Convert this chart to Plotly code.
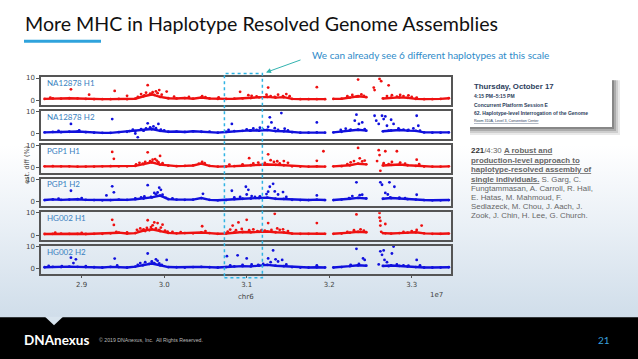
import base64
import plotly.graph_objects as go

# ---------------- data ----------------
TRACK_NAMES = ["NA12878 H1", "NA12878 H2", "PGP1 H1", "PGP1 H2", "HG002 H1", "HG002 H2"]
TRACK_COLORS = ["#ee1111", "#1111dd", "#ee1111", "#1111dd", "#ee1111", "#1111dd"]

X_TICKS = [2.9, 3.0, 3.1, 3.2, 3.3]
X_TICK_LABELS = ["2.9", "3.0", "3.1", "3.2", "3.3"]
Y_TICKS = [0, 10]

# window positions along chr6 (units of 1e7 bp); None values mark gaps
X_WIN = [2.855, 2.865, 2.875, 2.885, 2.895, 2.905, 2.915, 2.925, 2.935, 2.945,
         2.955, 2.965, 2.975, 2.985, 2.995, 3.005, 3.015, 3.025, 3.035, 3.045,
         3.055, 3.065, 3.075, 3.085, 3.095, 3.105, 3.115, 3.125, 3.135, 3.145,
         3.155, 3.165, 3.175, 3.185, 3.195, 3.200, 3.205, 3.215, 3.225, 3.235,
         3.245, 3.255, 3.265, 3.275, 3.285, 3.295, 3.305, 3.315, 3.325, 3.335, 3.345]

BASE_NA12878_H1 = [0.6, 0.8, 0.7, 0.9, 0.8, 0.6, 0.5, 0.5, 0.5, 0.6, 0.5, 0.7, 1.8, 2.6, 1.5,
                   0.9, 0.8, 1.0, 0.7, 1.2, 0.8, 0.6, 0.6, 0.7, 0.8, 1.0, 1.3, 1.5, 1.2, 1.4,
                   0.6, 0.5, 0.5, 0.5, 0.5, None, 0.6, 0.7, 1.2, 1.8, 1.4, None,
                   0.8, 1.2, 1.3, 1.1, 0.6, 0.5, 0.5, 0.6, 0.9]
BASE_NA12878_H2 = [0.7, 0.9, 0.8, 1.0, 1.1, 0.8, 0.6, 0.5, 0.5, 0.8, 1.0, 1.3, 1.6, 2.2, 1.4,
                   1.0, 1.1, 0.9, 1.2, 1.0, 1.1, 0.6, 0.9, 1.3, 1.4, 1.6, 1.5, 1.8, 1.3, 1.2,
                   0.8, 0.6, 0.6, 0.7, 0.6, None, 0.7, 1.0, 1.6, 1.9, 1.5, None,
                   1.2, 1.6, 1.8, 1.5, 1.4, 0.7, 0.6, 0.6, 0.7]
BASE_PGP1_H1 = [0.6, 0.7, 0.6, 0.6, 0.5, 0.5, 0.5, 0.6, 0.7, 0.6, 0.6, 0.8, 1.6, 2.4, 1.4,
                0.9, 0.7, 0.8, 1.0, 1.8, 0.8, 0.5, 0.5, 0.7, 0.9, 1.1, 1.3, 1.4, 1.3, 1.1,
                0.6, 0.5, 0.5, 0.6, 0.5, None, 0.6, 0.7, 1.1, 1.8, 1.5, None,
                1.0, 1.3, 1.4, 1.1, 0.8, 0.5, 0.5, 0.5, 0.6]
BASE_PGP1_H2 = [0.6, 0.9, 0.7, 0.8, 1.0, 0.7, 0.6, 0.5, 0.6, 0.8, 0.7, 1.0, 1.3, 1.8, 2.6,
                1.0, 0.8, 0.7, 0.8, 1.5, 0.7, 0.5, 0.6, 1.0, 1.2, 1.3, 1.5, 1.7, 1.2, 1.1,
                0.7, 0.6, 0.6, 0.8, 0.6, None, 0.6, 0.8, 1.2, 1.6, 1.3, None,
                1.2, 1.5, 1.3, 1.0, 0.8, 0.6, 0.5, 0.5, 0.6]
BASE_HG002_H1 = [0.5, 0.6, 0.7, 0.6, 0.6, 0.5, 0.6, 0.6, 0.8, 1.1, 0.7, 0.9, 2.0, 2.6, 1.8,
                 1.0, 0.8, 0.9, 0.8, 1.2, 0.9, 0.6, 0.7, 1.2, 1.4, 1.3, 1.5, 1.6, 1.3, 1.2,
                 0.7, 0.6, 0.6, 0.7, 0.6, None, 0.6, 0.7, 1.1, 1.5, 1.3, None,
                 0.9, 0.7, 0.9, 1.1, 1.3, 0.8, 0.6, 0.6, 0.7]
BASE_HG002_H2 = [0.7, 0.9, 0.8, 1.0, 0.9, 0.8, 0.7, 0.6, 0.9, 0.8, 0.6, 1.0, 1.8, 2.4, 1.6,
                 0.8, 0.7, 0.6, 0.8, 0.9, 0.7, 0.6, 0.8, 1.1, 1.2, 1.1, 1.4, 1.8, 1.4, 1.2,
                 0.8, 0.6, 0.6, 0.7, 0.6, None, 0.6, 0.8, 1.2, 1.6, 1.4, None,
                 1.3, 1.5, 1.3, 1.0, 0.8, 0.6, 0.6, 0.6, 0.7]

# individual elevated windows (position, est. diff %)
PTS_NA12878_H1 = [(2.862, 1.2), (2.887, 4.9), (2.909, 2.5), (2.940, 4.2), (2.955, 2.0), (2.968, 1.5),
                  (2.972, 2.8), (2.976, 2.2), (2.978, 3.4), (2.980, 6.8), (2.983, 3.0), (2.986, 3.6),
                  (2.988, 2.4), (2.990, 4.0), (2.992, 3.2), (2.994, 4.6), (2.997, 2.5), (3.003, 3.9),
                  (3.012, 1.6), (3.030, 1.5), (3.046, 1.8), (3.050, 1.4), (3.066, 1.3), (3.092, 3.8),
                  (3.102, 2.3), (3.106, 2.0), (3.112, 1.7), (3.126, 5.7), (3.124, 2.5), (3.129, 1.9),
                  (3.134, 1.5), (3.138, 2.5), (3.144, 1.9), (3.148, 2.8), (3.152, 1.8), (3.185, 5.9),
                  (3.222, 1.8), (3.228, 2.4), (3.233, 1.6), (3.235, 9.3), (3.239, 2.6), (3.242, 2.0),
                  (3.254, 5.7), (3.255, 4.6), (3.261, 9.6), (3.263, 8.6), (3.272, 6.7), (3.270, 1.9),
                  (3.276, 2.3), (3.282, 1.6), (3.286, 2.4), (3.290, 1.9), (3.296, 2.2), (3.300, 1.5),
                  (3.306, 1.2)]
PTS_NA12878_H2 = [(2.872, 1.4), (2.887, 4.5), (2.897, 1.6), (2.937, 6.7), (2.958, 1.3), (2.962, 2.0),
                  (2.965, 0.2), (2.968, -1.5), (2.972, 2.2), (2.975, 1.5), (2.978, 2.5), (2.980, 4.8),
                  (2.983, 3.0), (2.985, 2.2), (2.987, 3.4), (2.990, 2.6), (2.993, 4.5), (2.996, 2.0),
                  (3.000, 1.6), (3.082, 4.5), (3.078, 1.8), (3.100, 2.1), (3.104, 1.5), (3.108, 2.5),
                  (3.112, 1.8), (3.116, 2.8), (3.120, 2.0), (3.126, 3.2), (3.128, 7.5), (3.130, 5.2),
                  (3.134, 2.6), (3.138, 1.8), (3.142, 9.4), (3.146, 2.4), (3.150, 1.6), (3.185, 5.2),
                  (3.214, 1.8), (3.220, 2.4), (3.226, 2.0), (3.231, 6.0), (3.233, 8.7), (3.236, 4.5),
                  (3.240, 5.2), (3.243, 2.2), (3.255, 8.2), (3.257, 6.0), (3.260, 4.5), (3.264, 8.2),
                  (3.266, 6.7), (3.268, 7.9), (3.270, 3.7), (3.272, 1.5), (3.275, 6.4), (3.278, 4.5),
                  (3.284, 2.5), (3.290, 2.0), (3.296, 1.8), (3.302, 2.5), (3.306, 8.2), (3.308, 3.7),
                  (3.310, 1.5)]
PTS_PGP1_H1 = [(2.937, 7.1), (2.939, 4.0), (2.966, 1.5), (2.970, 2.2), (2.974, 1.8), (2.977, 2.6),
               (2.980, 6.9), (2.983, 2.9), (2.986, 3.6), (2.989, 3.9), (2.991, 3.2), (2.993, 2.5),
               (2.995, 5.3), (2.998, 2.0), (3.042, 1.8), (3.046, 2.6), (3.049, 2.0), (3.079, 1.4),
               (3.095, 1.5), (3.103, 4.3), (3.108, 1.9), (3.114, 2.3), (3.122, 2.1), (3.126, 6.0),
               (3.129, 3.4), (3.133, 2.6), (3.137, 2.9), (3.140, 1.9), (3.145, 3.0), (3.150, 2.2),
               (3.185, 3.1), (3.193, 7.4), (3.222, 1.6), (3.226, 2.4), (3.230, 3.0), (3.235, 8.9),
               (3.237, 4.2), (3.240, 2.8), (3.243, 3.2), (3.258, 3.0), (3.260, 7.9), (3.261, 5.7),
               (3.262, -1.4), (3.266, 2.0), (3.268, 7.4), (3.272, 1.6), (3.276, 2.6), (3.282, 7.4),
               (3.286, 2.3), (3.292, 1.8), (3.306, 3.6), (3.309, 1.6)]
PTS_PGP1_H2 = [(2.872, 1.2), (2.887, 4.8), (2.900, 1.5), (2.930, 2.7), (2.937, 6.8), (2.939, 4.1),
               (2.965, 1.4), (2.972, 1.8), (2.976, 2.2), (2.980, 7.3), (2.984, 2.0), (2.988, 3.8),
               (2.990, 3.2), (2.992, 4.0), (2.994, 6.2), (2.996, 5.2), (2.998, 3.0), (3.002, 1.6),
               (3.010, 1.4), (3.047, 3.4), (3.082, 4.8), (3.085, 1.8), (3.092, 2.0), (3.099, 6.6),
               (3.102, 5.2), (3.100, 3.1), (3.106, 2.4), (3.110, 2.0), (3.116, 2.3), (3.124, 3.3),
               (3.126, 4.4), (3.128, 6.6), (3.132, 7.9), (3.134, 4.5), (3.138, 3.1), (3.144, 4.2),
               (3.148, 2.0), (3.185, 2.7), (3.224, 1.5), (3.228, 2.4), (3.233, 8.6), (3.237, 2.8),
               (3.240, 3.0), (3.262, 8.6), (3.264, 7.5), (3.268, 3.8), (3.271, 3.1), (3.273, 8.6),
               (3.274, 1.8), (3.279, 6.6), (3.285, 1.7), (3.292, 1.5), (3.306, 3.0)]
PTS_HG002_H1 = [(2.868, 1.1), (2.900, 1.0), (2.937, 6.9), (2.939, 4.6), (2.942, 1.5), (2.955, 1.2),
                (2.967, 2.4), (2.969, 1.6), (2.971, 3.0), (2.973, 2.0), (2.975, 2.6), (2.977, 1.8),
                (2.979, 3.2), (2.980, 6.7), (2.982, 2.2), (2.984, 3.6), (2.986, 4.4), (2.988, 5.7),
                (2.990, 3.0), (2.992, 5.4), (2.994, 2.4), (2.996, 3.4), (2.998, 4.7), (3.001, 2.0),
                (3.004, 1.6), (3.010, 1.5), (3.020, 1.3), (3.046, 4.0), (3.050, 1.8), (3.077, 1.6),
                (3.080, 2.5), (3.083, 4.3), (3.087, 2.2), (3.090, 5.7), (3.094, 2.8), (3.100, 6.9),
                (3.103, 2.2), (3.108, 2.6), (3.113, 1.8), (3.118, 2.2), (3.122, 2.0), (3.126, 5.4),
                (3.130, 2.3), (3.134, 9.6), (3.137, 3.0), (3.140, 2.4), (3.144, 2.6), (3.150, 1.8),
                (3.185, 5.4), (3.222, 1.5), (3.230, 2.2), (3.233, 9.3), (3.238, 2.6), (3.242, 2.0),
                (3.261, 10.0), (3.261, 7.9), (3.262, 6.4), (3.262, 4.3), (3.263, 1.5), (3.268, 5.0),
                (3.268, 0.8), (3.290, 1.4), (3.300, 1.8), (3.306, 2.3), (3.312, 4.3)]
PTS_HG002_H2 = [(2.860, 1.3), (2.876, 1.2), (2.887, 5.0), (2.890, 2.6), (2.893, 4.3), (2.905, 1.2),
                (2.940, 4.6), (2.943, 1.5), (2.968, 1.8), (2.971, 2.6), (2.974, 1.6), (2.977, 3.0),
                (2.980, 6.9), (2.982, 2.2), (2.985, 3.4), (2.988, 2.6), (2.990, 4.3), (2.992, 3.6),
                (2.994, 2.4), (2.997, 1.8), (3.003, 4.0), (3.076, 5.7), (3.080, 1.6), (3.089, 6.1),
                (3.095, 1.8), (3.100, 4.7), (3.106, 2.0), (3.114, 1.8), (3.120, 2.2), (3.126, 4.7),
                (3.129, 3.0), (3.132, 8.3), (3.135, 4.3), (3.138, 3.3), (3.143, 4.0), (3.148, 2.0),
                (3.185, 1.6), (3.226, 1.8), (3.233, 9.0), (3.236, 2.2), (3.241, 4.7), (3.243, 4.0),
                (3.260, 2.0), (3.262, 7.9), (3.264, 6.3), (3.266, 8.3), (3.267, 4.0), (3.270, 3.0),
                (3.272, 1.2), (3.276, 6.9), (3.278, 10.0), (3.282, 2.0), (3.290, 1.6), (3.296, 1.4),
                (3.306, 4.0), (3.310, 1.6)]

BASES = [BASE_NA12878_H1, BASE_NA12878_H2, BASE_PGP1_H1, BASE_PGP1_H2, BASE_HG002_H1, BASE_HG002_H2]
POINTS = [PTS_NA12878_H1, PTS_NA12878_H2, PTS_PGP1_H1, PTS_PGP1_H2, PTS_HG002_H1, PTS_HG002_H2]

HIGHLIGHT = (3.073, 3.119)  # dotted box region

# ---------------- layout helpers ----------------
W, H = 638, 359
def fx(p):
    return p / W
def fy(p):
    return 1 - p / H

X_RANGE = [2.8507, 3.3476]
Y_RANGE = [-2.2, 10.3]
PANEL_TOPS = [75, 109, 143, 177, 211, 245]
PANEL_H = 28
LEFT, RIGHT = 41, 451

fig = go.Figure()
layout = {}
annotations = []
shapes = []

for i in range(6):
    n = i + 1
    xa = "x" if n == 1 else f"x{n}"
    ya = "y" if n == 1 else f"y{n}"
    top = PANEL_TOPS[i]
    bottom = top + PANEL_H
    color = TRACK_COLORS[i]
    fig.add_trace(go.Scatter(x=X_WIN, y=BASES[i], mode="lines+markers", xaxis=xa, yaxis=ya,
                             line=dict(color=color, width=2.4), marker=dict(color=color, size=2.8),
                             connectgaps=False, showlegend=False, hoverinfo="skip"))
    px_ = [p[0] for p in POINTS[i]]
    py_ = [p[1] for p in POINTS[i]]
    fig.add_trace(go.Scatter(x=px_, y=py_, mode="markers", xaxis=xa, yaxis=ya,
                             marker=dict(color=color, size=2.8), showlegend=False, hoverinfo="skip",
                             cliponaxis=True))
    last = (n == 6)
    layout["xaxis" if n == 1 else f"xaxis{n}"] = dict(
        domain=[fx(LEFT), fx(RIGHT)], range=X_RANGE, anchor=ya,
        showline=True, mirror=True, linecolor="#555555", linewidth=1.5,
        showgrid=False, zeroline=False,
        tickvals=X_TICKS, ticktext=X_TICK_LABELS,
        ticks="outside" if last else "", ticklen=3, tickcolor="#555555",
        showticklabels=last, tickfont=dict(family="DejaVu Sans", size=7, color="#444444"))
    layout["yaxis" if n == 1 else f"yaxis{n}"] = dict(
        domain=[fy(bottom), fy(top)], range=Y_RANGE, anchor=xa,
        showline=True, mirror=True, linecolor="#555555", linewidth=1.5,
        showgrid=False, zeroline=False, tickvals=Y_TICKS,
        ticks="outside", ticklen=3, tickcolor="#555555",
        tickfont=dict(family="DejaVu Sans", size=7, color="#444444"))
    annotations.append(dict(xref="paper", yref="paper", x=fx(45), y=fy(top + 6),
                            xanchor="left", yanchor="middle", showarrow=False,
                            text=TRACK_NAMES[i],
                            font=dict(family="Lato", size=8, color="#3a7fc0")))

# dotted highlight box
shapes.append(dict(type="rect", xref="x6", yref="paper", x0=HIGHLIGHT[0], x1=HIGHLIGHT[1],
                   y0=fy(277), y1=fy(71), line=dict(color="#2fb3e3", width=1.5, dash="dot"),
                   fillcolor="rgba(0,0,0,0)", layer="above"))

# axis labels
annotations += [
    dict(xref="paper", yref="paper", x=fx(21), y=fy(163), text="est. diff (%)", textangle=-90,
         showarrow=False, font=dict(family="DejaVu Sans", size=6.5, color="#444444")),
    dict(xref="paper", yref="paper", x=fx(246), y=fy(296), yanchor="middle", text="chr6",
         showarrow=False, font=dict(family="DejaVu Sans", size=7, color="#444444")),
    dict(xref="paper", yref="paper", x=fx(445), y=fy(294), yanchor="middle", text="1e7",
         showarrow=False, font=dict(family="DejaVu Sans", size=7, color="#444444")),
]

# title & callout
annotations += [
    dict(xref="paper", yref="paper", x=fx(23), y=fy(21), xanchor="left", yanchor="middle",
         text="More MHC in Haplotype Resolved Genome Assemblies", showarrow=False,
         font=dict(family="Lato", size=19.6, color="#111111")),
    dict(xref="paper", yref="paper", x=fx(310), y=fy(52), xanchor="left", yanchor="middle",
         text="We can already see 6 different haplotypes at this scale", showarrow=False,
         font=dict(family="Lato", size=10, color="#2e8bc9")),
    dict(xref="paper", yref="paper", x=fx(266), y=fy(70), ax=36, ay=-13, axref="pixel", ayref="pixel",
         text="", showarrow=True, arrowhead=2, arrowsize=1, arrowwidth=1, arrowcolor="#33b3b0"),
]
shapes.append(dict(type="rect", xref="paper", yref="paper", x0=fx(24), x1=fx(101),
                   y0=fy(40), y1=fy(37), fillcolor="#2fa3dc", line=dict(width=0)))

# session card with shadow
for k, a in enumerate([0.10, 0.14, 0.20, 0.28]):
    d = 8 - 2 * k
    shapes.append(dict(type="rect", xref="paper", yref="paper", x0=fx(470), x1=fx(612 + d),
                       y0=fy(125 + d), y1=fy(78), fillcolor=f"rgba(40,40,40,{a})", line=dict(width=0)))
shapes.append(dict(type="rect", xref="paper", yref="paper", x0=fx(468), x1=fx(612),
                   y0=fy(125), y1=fy(74), fillcolor="#ffffff", line=dict(width=0)))
card = [("<b>Thursday, October 17</b>", 84, 7.8),
        ("<b>4:15 PM–5:15 PM</b>", 94, 5.0),
        ("<b>Concurrent Platform Session E</b>", 102.5, 5.0),
        ("<b>62. Haplotype-level Interrogation of the Genome</b>", 110.5, 5.0),
        ("<u>Room 310A, Level 3, Convention Center</u>", 118.5, 3.6)]
for t, yy, s in card:
    annotations.append(dict(xref="paper", yref="paper", x=fx(472), y=fy(yy), xanchor="left",
                            yanchor="middle", text=t, showarrow=False,
                            font=dict(family="Liberation Sans", size=s, color="#2c3e5c")))

ref_lines = [("<b><span style='color:#333'>221</span></b>/4:30 <b><u>A robust and</u></b>", 149),
             ("<b><u>production-level approach to</u></b>", 158.5),
             ("<b><u>haplotype-resolved assembly of</u></b>", 168),
             ("<b><u>single individuals.</u></b> S. Garg, C.", 177.5),
             ("Fungtammasan, A. Carroll, R. Hall,", 187),
             ("E. Hatas, M. Mahmoud, F.", 196),
             ("Sedlazeck, M. Chou, J. Aach, J.", 205),
             ("Zook, J. Chin, H. Lee, G. Church.", 214)]
for t, yy in ref_lines:
    annotations.append(dict(xref="paper", yref="paper", x=fx(469), y=fy(yy), xanchor="left",
                            yanchor="middle", text=t, showarrow=False,
                            font=dict(family="Liberation Sans", size=7.9, color="#666666")))

# footer
shapes.append(dict(type="rect", xref="paper", yref="paper", x0=0, x1=1, y0=0, y1=fy(317),
                   fillcolor="#000000", line=dict(width=0)))
shapes.append(dict(type="path", xref="paper", yref="paper",
                   path=f"M {fx(45)},{fy(316.5)} L {fx(63)},{fy(316.5)} L {fx(54)},{fy(325)} Z",
                   fillcolor="#d8e4ee", line=dict(width=0)))
annotations += [
    dict(xref="paper", yref="paper", x=fx(22), y=fy(340), xanchor="left", yanchor="middle",
         text="<b>DNAnexus</b>", showarrow=False,
         font=dict(family="Lato", size=13.5, color="#ffffff")),
    dict(xref="paper", yref="paper", x=fx(97), y=fy(340), xanchor="left", yanchor="middle",
         text="© 2019 DNAnexus, Inc.  All Rights Reserved.", showarrow=False,
         font=dict(family="Liberation Sans", size=5.2, color="#bbbbbb")),
    dict(xref="paper", yref="paper", x=fx(604), y=fy(340), xanchor="center", yanchor="middle",
         text="21", showarrow=False, font=dict(family="Lato", size=10, color="#3aa0dc")),
]

svg = ('<svg xmlns="http://www.w3.org/2000/svg" width="638" height="359">'
       '<defs><linearGradient id="g" x1="0" y1="0" x2="0" y2="1">'
       '<stop offset="0" stop-color="#ffffff"/><stop offset="0.40" stop-color="#ffffff"/>'
       '<stop offset="0.62" stop-color="#eaf0f6"/><stop offset="0.86" stop-color="#d2dfeb"/>'
       '<stop offset="1" stop-color="#c8d7e5"/></linearGradient></defs>'
       '<rect width="638" height="359" fill="url(#g)"/></svg>')
bg_src = "data:image/svg+xml;base64," + base64.b64encode(svg.encode()).decode()

fig.update_layout(
    width=W, height=H, margin=dict(l=0, r=0, t=0, b=0),
    paper_bgcolor="#ffffff", plot_bgcolor="#ffffff",
    annotations=annotations, shapes=shapes,
    images=[dict(source=bg_src, xref="paper", yref="paper", x=0, y=1, sizex=1, sizey=1,
                 sizing="stretch", layer="below", xanchor="left", yanchor="top")],
    **layout)

fig.write_html("out.html", config={"displayModeBar": False},
               post_script="document.body.style.margin='0';document.body.style.overflow='hidden';")
